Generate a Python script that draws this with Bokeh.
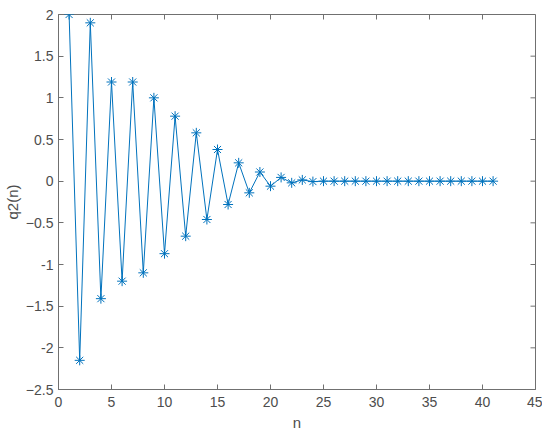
from math import pi
from bokeh.plotting import figure
from bokeh.models import FixedTicker
from bokeh.embed import file_html
from bokeh.resources import INLINE

# samples
n = list(range(1, 42))
q2 = [2.0, -2.15, 1.90, -1.41, 1.19, -1.20, 1.19, -1.10, 1.00, -0.87,
      0.78, -0.66, 0.58, -0.46, 0.38, -0.28, 0.22, -0.14, 0.11, -0.06,
      0.045, -0.02, 0.015, -0.005] + [0.0] * 17

x_ticks = [0, 5, 10, 15, 20, 25, 30, 35, 40, 45]
y_ticks = [-2.5, -2, -1.5, -1, -0.5, 0, 0.5, 1, 1.5, 2]
y_labels = {-2: "-2", -1: "-1", 0: "0", 1: "1", 2: "2"}
x_lim = (0, 45)
y_lim = (-2.5, 2)

blue = "#0072BD"
axis_col = "#707070"
text_col = "#4d4d4d"
font = "Liberation Sans"

p = figure(frame_width=477, frame_height=375, x_range=x_lim, y_range=y_lim,
           output_backend="svg", toolbar_location=None,
           min_border_left=50, min_border_right=7, min_border_top=7, min_border_bottom=40)
p.styles = {"margin-top": "7px"}

p.line(n, q2, line_color=blue, line_width=1)
p.scatter(n, q2, marker="asterisk", size=10, line_color=blue, line_width=1)

p.xgrid.visible = False
p.ygrid.visible = False
p.outline_line_color = axis_col
p.outline_line_width = 1

p.xaxis.ticker = FixedTicker(ticks=x_ticks)
p.yaxis.ticker = FixedTicker(ticks=y_ticks)
p.yaxis.major_label_overrides = y_labels
p.xaxis.axis_label = "n"
p.yaxis.axis_label = "q2(n)"

for ax in [p.xaxis[0], p.yaxis[0]]:
    ax.major_tick_in = 5
    ax.major_tick_out = 0
    ax.minor_tick_line_color = None
    ax.axis_line_color = axis_col
    ax.major_tick_line_color = axis_col
    ax.major_label_text_font = font
    ax.major_label_text_font_size = "14px"
    ax.major_label_text_color = text_col
    ax.axis_label_text_font = font
    ax.axis_label_text_font_size = "15px"
    ax.axis_label_text_font_style = "normal"
    ax.axis_label_text_color = text_col
    ax.major_label_standoff = 5
    ax.axis_label_standoff = 2
p.xaxis.major_label_standoff = 7
p.xaxis.axis_label_standoff = 4

# box ticks on the top and right edges, as in the original
p.ray(x=x_ticks, y=[y_lim[1]] * len(x_ticks), length=5, angle=-pi / 2,
      length_units="screen", line_color=axis_col)
p.ray(x=[x_lim[1]] * len(y_ticks), y=y_ticks, length=5, angle=pi,
      length_units="screen", line_color=axis_col)

open("out.html", "w").write(file_html(p, INLINE))
